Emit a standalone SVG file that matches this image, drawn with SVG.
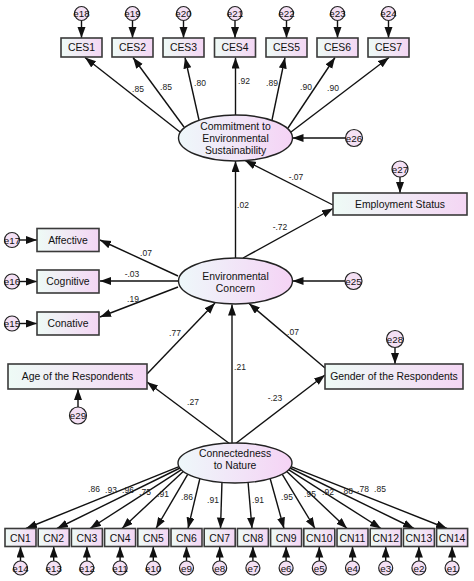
<svg xmlns="http://www.w3.org/2000/svg" width="474" height="581" viewBox="0 0 474 581">
<defs>
<linearGradient id="gBox" x1="0" y1="0" x2="1" y2="0"><stop offset="0" stop-color="#eefbf6"/><stop offset="1" stop-color="#f4d6f4"/></linearGradient>
<linearGradient id="gEll" x1="0" y1="0" x2="1" y2="0"><stop offset="0" stop-color="#eef8fa"/><stop offset="1" stop-color="#f5d3f5"/></linearGradient>
<marker id="ah" markerUnits="userSpaceOnUse" markerWidth="12" markerHeight="9" refX="11" refY="4" orient="auto"><path d="M0,0 L11,4 L0,8 z" fill="#111"/></marker>
<style>
.box{fill:url(#gBox);stroke:#3a3a3a;stroke-width:1.6}
.ell{fill:url(#gEll);stroke:#222;stroke-width:1.4}
.err{fill:#f4e0f4;stroke:#222;stroke-width:1.2}
text{font-family:"Liberation Sans",Arial,sans-serif;text-anchor:middle;fill:#111}
.t{font-size:10.4px}
.et{font-size:9.8px}
.lbl{font-size:8.5px;fill:#222}
.ln{stroke:#111;stroke-width:1.4;fill:none;marker-end:url(#ah)}
</style>
</defs>
<rect width="474" height="581" fill="#fff"/>

<g id="connectors">
<line class="ln" x1="81.5" y1="20.5" x2="81.5" y2="38"/>
<line class="ln" x1="132.5" y1="20.5" x2="132.5" y2="38"/>
<line class="ln" x1="183.5" y1="20.5" x2="183.5" y2="38"/>
<line class="ln" x1="235" y1="20.5" x2="235" y2="38"/>
<line class="ln" x1="286.5" y1="20.5" x2="286.5" y2="38"/>
<line class="ln" x1="337.5" y1="20.5" x2="337.5" y2="38"/>
<line class="ln" x1="388.5" y1="20.5" x2="388.5" y2="38"/>
<line class="ln" x1="180" y1="132" x2="85" y2="57.5"/>
<line class="ln" x1="184" y1="127" x2="133" y2="57.5"/>
<line class="ln" x1="199" y1="120" x2="185" y2="57.5"/>
<line class="ln" x1="235.5" y1="115" x2="235.5" y2="57.5"/>
<line class="ln" x1="272" y1="120" x2="285" y2="57.5"/>
<line class="ln" x1="288" y1="128" x2="335" y2="57.5"/>
<line class="ln" x1="291" y1="132" x2="389" y2="57.5"/>
<line class="ln" x1="345.5" y1="138" x2="292.5" y2="138"/>
<line class="ln" x1="400" y1="177" x2="400" y2="193"/>
<line class="ln" x1="333" y1="205" x2="245" y2="160.5"/>
<line class="ln" x1="235.5" y1="258" x2="235.5" y2="161"/>
<line class="ln" x1="243" y1="258" x2="333" y2="208.5"/>
<line class="ln" x1="178" y1="276" x2="100" y2="240"/>
<line class="ln" x1="178" y1="281" x2="100" y2="281"/>
<line class="ln" x1="178" y1="287" x2="100" y2="317"/>
<line class="ln" x1="19.5" y1="240" x2="37" y2="240"/>
<line class="ln" x1="19.5" y1="281.5" x2="37" y2="281.5"/>
<line class="ln" x1="19.5" y1="323.5" x2="37" y2="323.5"/>
<line class="ln" x1="345" y1="281" x2="292.5" y2="281"/>
<line class="ln" x1="147" y1="374" x2="215" y2="303"/>
<line class="ln" x1="325" y1="368" x2="249" y2="303.5"/>
<line class="ln" x1="232" y1="444" x2="232" y2="304.5"/>
<line class="ln" x1="230" y1="444" x2="147" y2="382"/>
<line class="ln" x1="235" y1="444" x2="325" y2="375"/>
<line class="ln" x1="395" y1="347.5" x2="395" y2="364"/>
<line class="ln" x1="78" y1="407" x2="78" y2="389"/>
<line class="ln" x1="179" y1="466.6" x2="26" y2="528.5"/>
<line class="ln" x1="180" y1="468" x2="57" y2="528.5"/>
<line class="ln" x1="181.5" y1="469.6" x2="90" y2="528.5"/>
<line class="ln" x1="183.5" y1="471.2" x2="122" y2="528.5"/>
<line class="ln" x1="188" y1="473.8" x2="156" y2="528.5"/>
<line class="ln" x1="200" y1="478" x2="188" y2="528.5"/>
<line class="ln" x1="222" y1="481.5" x2="220.5" y2="528.5"/>
<line class="ln" x1="248" y1="481.5" x2="252" y2="528.5"/>
<line class="ln" x1="270" y1="478" x2="284" y2="528.5"/>
<line class="ln" x1="282" y1="473.8" x2="315" y2="528.5"/>
<line class="ln" x1="286.5" y1="471.2" x2="347" y2="528.5"/>
<line class="ln" x1="288.5" y1="469.6" x2="381" y2="528.5"/>
<line class="ln" x1="290" y1="468" x2="414" y2="528.5"/>
<line class="ln" x1="291" y1="466.6" x2="447" y2="528.5"/>
<line class="ln" x1="20.5" y1="561" x2="20.5" y2="546.5"/>
<line class="ln" x1="53.7" y1="561" x2="53.7" y2="546.5"/>
<line class="ln" x1="86.9" y1="561" x2="86.9" y2="546.5"/>
<line class="ln" x1="120.1" y1="561" x2="120.1" y2="546.5"/>
<line class="ln" x1="153.3" y1="561" x2="153.3" y2="546.5"/>
<line class="ln" x1="186.5" y1="561" x2="186.5" y2="546.5"/>
<line class="ln" x1="219.7" y1="561" x2="219.7" y2="546.5"/>
<line class="ln" x1="252.9" y1="561" x2="252.9" y2="546.5"/>
<line class="ln" x1="286.1" y1="561" x2="286.1" y2="546.5"/>
<line class="ln" x1="319.3" y1="561" x2="319.3" y2="546.5"/>
<line class="ln" x1="352.5" y1="561" x2="352.5" y2="546.5"/>
<line class="ln" x1="385.7" y1="561" x2="385.7" y2="546.5"/>
<line class="ln" x1="418.9" y1="561" x2="418.9" y2="546.5"/>
<line class="ln" x1="452.1" y1="561" x2="452.1" y2="546.5"/>
</g>

<g id="path-labels">
<text class="lbl" x="138" y="92">.85</text>
<text class="lbl" x="166" y="90">.85</text>
<text class="lbl" x="200" y="86">.80</text>
<text class="lbl" x="244" y="84">.92</text>
<text class="lbl" x="272" y="86">.89</text>
<text class="lbl" x="306" y="90">.90</text>
<text class="lbl" x="333" y="91">.90</text>
<text class="lbl" x="296" y="180">-.07</text>
<text class="lbl" x="243" y="208">.02</text>
<text class="lbl" x="280" y="230">-.72</text>
<text class="lbl" x="146" y="256">.07</text>
<text class="lbl" x="132" y="277">-.03</text>
<text class="lbl" x="133" y="302">.19</text>
<text class="lbl" x="175" y="336">.77</text>
<text class="lbl" x="293" y="335">.07</text>
<text class="lbl" x="240" y="370">.21</text>
<text class="lbl" x="193" y="405">.27</text>
<text class="lbl" x="275" y="401">-.23</text>
<text class="lbl" x="94" y="492">.86</text>
<text class="lbl" x="111" y="493">.93</text>
<text class="lbl" x="128" y="493">.96</text>
<text class="lbl" x="145" y="495">.75</text>
<text class="lbl" x="163" y="497">.91</text>
<text class="lbl" x="187" y="500">.86</text>
<text class="lbl" x="213" y="503">.91</text>
<text class="lbl" x="258" y="503">.91</text>
<text class="lbl" x="287" y="500">.95</text>
<text class="lbl" x="310" y="497">.95</text>
<text class="lbl" x="328" y="495">.92</text>
<text class="lbl" x="347" y="494">.88</text>
<text class="lbl" x="363" y="492">.78</text>
<text class="lbl" x="380" y="492">.85</text>
</g>

<g id="e18"><circle class="err" cx="81.5" cy="13.5" r="7"/><text class="et" x="81.5" y="17">e18</text></g>
<g id="e19"><circle class="err" cx="132.5" cy="13.5" r="7"/><text class="et" x="132.5" y="17">e19</text></g>
<g id="e20"><circle class="err" cx="183.5" cy="13.5" r="7"/><text class="et" x="183.5" y="17">e20</text></g>
<g id="e21"><circle class="err" cx="235" cy="13.5" r="7"/><text class="et" x="235" y="17">e21</text></g>
<g id="e22"><circle class="err" cx="286.5" cy="13.5" r="7"/><text class="et" x="286.5" y="17">e22</text></g>
<g id="e23"><circle class="err" cx="337.5" cy="13.5" r="7"/><text class="et" x="337.5" y="17">e23</text></g>
<g id="e24"><circle class="err" cx="388.5" cy="13.5" r="7"/><text class="et" x="388.5" y="17">e24</text></g>

<g id="CES1"><rect class="box" x="61" y="38" width="41" height="19"/><text class="t" x="81.5" y="51">CES1</text></g>
<g id="CES2"><rect class="box" x="112" y="38" width="41" height="19"/><text class="t" x="132.5" y="51">CES2</text></g>
<g id="CES3"><rect class="box" x="163" y="38" width="41" height="19"/><text class="t" x="183.5" y="51">CES3</text></g>
<g id="CES4"><rect class="box" x="214.5" y="38" width="41" height="19"/><text class="t" x="235" y="51">CES4</text></g>
<g id="CES5"><rect class="box" x="266" y="38" width="41" height="19"/><text class="t" x="286.5" y="51">CES5</text></g>
<g id="CES6"><rect class="box" x="317" y="38" width="41" height="19"/><text class="t" x="337.5" y="51">CES6</text></g>
<g id="CES7"><rect class="box" x="368" y="38" width="41" height="19"/><text class="t" x="388.5" y="51">CES7</text></g>

<g id="CES"><ellipse class="ell" cx="235.5" cy="138" rx="57" ry="23"/>
<text class="t" x="235.5" y="129.5">Commitment to</text>
<text class="t" x="235.5" y="141.5">Environmental</text>
<text class="t" x="235.5" y="153.5">Sustainability</text></g>
<g id="e26"><circle class="err" cx="354" cy="138" r="8.5"/><text class="et" x="354" y="141.5">e26</text></g>

<g id="e27"><circle class="err" cx="400" cy="169" r="8"/><text class="et" x="400" y="172.5">e27</text></g>
<g id="EmploymentStatus"><rect class="box" x="333" y="193" width="134" height="22"/><text class="t" x="400" y="207.5">Employment Status</text></g>

<g id="e17"><circle class="err" cx="12" cy="240" r="7.5"/><text class="et" x="12" y="243.5">e17</text></g>
<g id="e16"><circle class="err" cx="12" cy="281.5" r="7.5"/><text class="et" x="12" y="285">e16</text></g>
<g id="e15"><circle class="err" cx="12" cy="323.5" r="7.5"/><text class="et" x="12" y="327">e15</text></g>
<g id="Affective"><rect class="box" x="37" y="228.5" width="62" height="23"/><text class="t" x="68" y="243.5">Affective</text></g>
<g id="Cognitive"><rect class="box" x="37" y="270" width="62" height="23"/><text class="t" x="68" y="285">Cognitive</text></g>
<g id="Conative"><rect class="box" x="37" y="312" width="62" height="23"/><text class="t" x="68" y="327">Conative</text></g>

<g id="EnvironmentalConcern"><ellipse class="ell" cx="235.5" cy="281" rx="57" ry="23"/>
<text class="t" x="235.5" y="279.5">Environmental</text>
<text class="t" x="235.5" y="291.5">Concern</text></g>
<g id="e25"><circle class="err" cx="353.5" cy="281" r="8.5"/><text class="et" x="353.5" y="284.5">e25</text></g>

<g id="e28"><circle class="err" cx="395" cy="339" r="8.5"/><text class="et" x="395" y="342.5">e28</text></g>
<g id="AgeOfTheRespondents"><rect class="box" x="8" y="364" width="139" height="25"/><text class="t" x="77.5" y="380">Age of the Respondents</text></g>
<g id="GenderOfTheRespondents"><rect class="box" x="325" y="364" width="138" height="25"/><text class="t" x="394" y="380">Gender of the Respondents</text></g>
<g id="e29"><circle class="err" cx="78" cy="415.5" r="8.5"/><text class="et" x="78" y="419">e29</text></g>

<g id="ConnectednessToNature"><ellipse class="ell" cx="235" cy="463" rx="57" ry="20"/>
<text class="t" x="235" y="456.5">Connectedness</text>
<text class="t" x="235" y="468.5">to Nature</text></g>

<g id="CN1"><rect class="box" x="5" y="528.5" width="31" height="18"/><text class="t" x="20.5" y="541.5">CN1</text></g>
<g id="CN2"><rect class="box" x="38.2" y="528.5" width="31" height="18"/><text class="t" x="53.7" y="541.5">CN2</text></g>
<g id="CN3"><rect class="box" x="71.4" y="528.5" width="31" height="18"/><text class="t" x="86.9" y="541.5">CN3</text></g>
<g id="CN4"><rect class="box" x="104.6" y="528.5" width="31" height="18"/><text class="t" x="120.1" y="541.5">CN4</text></g>
<g id="CN5"><rect class="box" x="137.8" y="528.5" width="31" height="18"/><text class="t" x="153.3" y="541.5">CN5</text></g>
<g id="CN6"><rect class="box" x="171" y="528.5" width="31" height="18"/><text class="t" x="186.5" y="541.5">CN6</text></g>
<g id="CN7"><rect class="box" x="204.2" y="528.5" width="31" height="18"/><text class="t" x="219.7" y="541.5">CN7</text></g>
<g id="CN8"><rect class="box" x="237.4" y="528.5" width="31" height="18"/><text class="t" x="252.9" y="541.5">CN8</text></g>
<g id="CN9"><rect class="box" x="270.6" y="528.5" width="31" height="18"/><text class="t" x="286.1" y="541.5">CN9</text></g>
<g id="CN10"><rect class="box" x="303.8" y="528.5" width="31" height="18"/><text class="t" x="319.3" y="541.5">CN10</text></g>
<g id="CN11"><rect class="box" x="337" y="528.5" width="31" height="18"/><text class="t" x="352.5" y="541.5">CN11</text></g>
<g id="CN12"><rect class="box" x="370.2" y="528.5" width="31" height="18"/><text class="t" x="385.7" y="541.5">CN12</text></g>
<g id="CN13"><rect class="box" x="403.4" y="528.5" width="31" height="18"/><text class="t" x="418.9" y="541.5">CN13</text></g>
<g id="CN14"><rect class="box" x="436.6" y="528.5" width="31" height="18"/><text class="t" x="452.1" y="541.5">CN14</text></g>

<g id="e14"><circle class="err" cx="20.5" cy="568" r="7"/><text class="et" x="20.5" y="571.5">e14</text></g>
<g id="e13"><circle class="err" cx="53.7" cy="568" r="7"/><text class="et" x="53.7" y="571.5">e13</text></g>
<g id="e12"><circle class="err" cx="86.9" cy="568" r="7"/><text class="et" x="86.9" y="571.5">e12</text></g>
<g id="e11"><circle class="err" cx="120.1" cy="568" r="7"/><text class="et" x="120.1" y="571.5">e11</text></g>
<g id="e10"><circle class="err" cx="153.3" cy="568" r="7"/><text class="et" x="153.3" y="571.5">e10</text></g>
<g id="e9"><circle class="err" cx="186.5" cy="568" r="7"/><text class="et" x="186.5" y="571.5">e9</text></g>
<g id="e8"><circle class="err" cx="219.7" cy="568" r="7"/><text class="et" x="219.7" y="571.5">e8</text></g>
<g id="e7"><circle class="err" cx="252.9" cy="568" r="7"/><text class="et" x="252.9" y="571.5">e7</text></g>
<g id="e6"><circle class="err" cx="286.1" cy="568" r="7"/><text class="et" x="286.1" y="571.5">e6</text></g>
<g id="e5"><circle class="err" cx="319.3" cy="568" r="7"/><text class="et" x="319.3" y="571.5">e5</text></g>
<g id="e4"><circle class="err" cx="352.5" cy="568" r="7"/><text class="et" x="352.5" y="571.5">e4</text></g>
<g id="e3"><circle class="err" cx="385.7" cy="568" r="7"/><text class="et" x="385.7" y="571.5">e3</text></g>
<g id="e2"><circle class="err" cx="418.9" cy="568" r="7"/><text class="et" x="418.9" y="571.5">e2</text></g>
<g id="e1"><circle class="err" cx="452.1" cy="568" r="7"/><text class="et" x="452.1" y="571.5">e1</text></g>
</svg>
